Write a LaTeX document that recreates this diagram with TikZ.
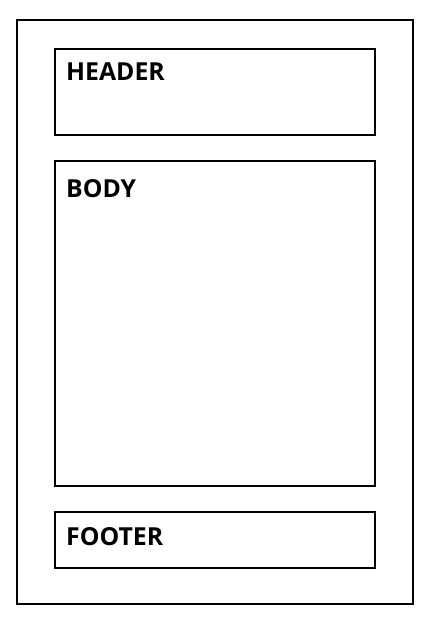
\documentclass[tikz,border=0pt]{standalone}
\usepackage{fontspec}
\setmainfont{Open Sans}
\begin{document}
\begin{tikzpicture}[x=1pt,y=-1pt,
  box/.style={draw=black,line width=2pt,fill=white},
  lbl/.style={anchor=base west,inner sep=0pt,font=\fontsize{24.8}{28}\selectfont\bfseries}]
\useasboundingbox (0,0) rectangle (431,620);
\draw[box] (17,20) rectangle (413,604);
\draw[box] (55,49) rectangle (375,135);
\draw[box] (55,161) rectangle (375,486);
\draw[box] (55,512) rectangle (375,568);
\node[lbl] (h) at (66,81) {HEADER};
\node[lbl] (b) at (66,197) {BODY};
\node[lbl] (f) at (66,545) {FOOTER};
\end{tikzpicture}
\end{document}
